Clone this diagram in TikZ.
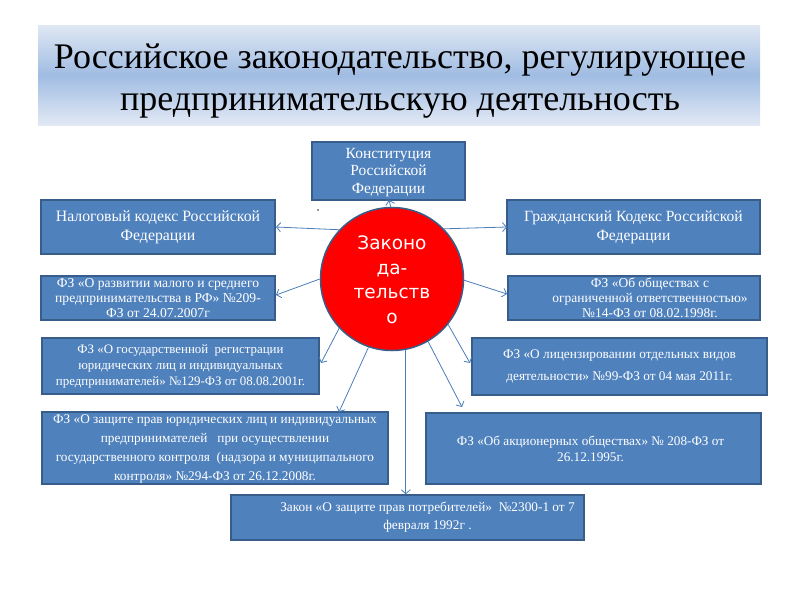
\documentclass[tikz,border=0pt]{standalone}
\usepackage{fontspec}
\setmainfont{Liberation Serif}
\newfontfamily\circfont{DejaVu Sans}
\usetikzlibrary{arrows.meta,calc}
\definecolor{boxfill}{RGB}{79,129,189}
\definecolor{boxedge}{RGB}{56,93,138}
\definecolor{arrowc}{RGB}{74,126,187}
\definecolor{bantop}{RGB}{224,232,244}
\definecolor{banmid}{RGB}{160,188,226}
\definecolor{banbot}{RGB}{226,233,245}
\tikzset{
  box/.style={draw=boxedge, fill=boxfill, line width=1.5pt, inner sep=0pt},
  txt/.style={text=white, align=center, inner sep=0pt},
  ttl/.style={anchor=base, inner sep=0pt, text=black, font=\fontsize{36}{43}\selectfont},
  arr/.style={draw=arrowc, line width=0.8pt, -{Straight Barb[length=4pt,width=9pt]}},
}
\begin{document}
\begin{tikzpicture}[x=1pt,y=-1pt]
\useasboundingbox (0,0) rectangle (800,600);
% title banner
\shade[top color=bantop, bottom color=banbot, middle color=banmid] (38,25) rectangle (760,125);
\node[ttl] (title1) at (400,68) {Российское законодательство, регулирующее};
\node[ttl] (title2) at (400,110) {предпринимательскую деятельность};
% boxes
\node[box, minimum width=153pt, minimum height=58pt] (konst) at (388.5,171) {};
\node[txt, font=\fontsize{15.5}{17.5}\selectfont] (konstt) at ($(konst)+(0,1.5)$) {Конституция\\Российской\\Федерации};
\node[box, minimum width=234pt, minimum height=54pt] (nal) at (158,227) {};
\node[txt, font=\fontsize{15.8}{19}\selectfont] (nalt) at (nal) {Налоговый кодекс Российской\\Федерации};
\node[box, minimum width=253pt, minimum height=54pt] (graz) at (633.5,227) {};
\node[txt, font=\fontsize{15.6}{19}\selectfont] (grazt) at (graz) {Гражданский Кодекс Российской\\Федерации};
\node[box, minimum width=234pt, minimum height=44pt] (razv) at (158,298) {};
\node[txt, font=\fontsize{13.6}{15}\selectfont] (razvt) at (razv) {ФЗ «О развитии малого и среднего\\предпринимательства в РФ» №209-\\ФЗ от 24.07.2007г};
\node[box, minimum width=252pt, minimum height=44pt] (obsh) at (634,298) {};
\node[txt, font=\fontsize{13.5}{15}\selectfont] (obsht) at ($(obsh)+(16,0)$) {ФЗ «Об обществах с\\ограниченной ответственностью»\\№14-ФЗ от 08.02.1998г.};
\node[box, minimum width=277pt, minimum height=56pt] (gos) at (180.5,366) {};
\node[txt, font=\fontsize{12.9}{16}\selectfont] (gost) at (gos) {ФЗ «О государственной \ регистрации\\юридических лиц и индивидуальных\\предпринимателей» №129-ФЗ от 08.08.2001г.};
\node[box, minimum width=346pt, minimum height=72pt] (zash) at (215,448) {};
\node[txt, font=\fontsize{13.3}{19}\selectfont] (zasht) at ($(zash)+(0,1.5)$) {ФЗ «О защите прав юридических лиц и индивидуальных\\предпринимателей \ \ при осуществлении\\государственного контроля \ (надзора и муниципального\\контроля» №294-ФЗ от 26.12.2008г.};
\node[box, minimum width=295pt, minimum height=57pt] (lic) at (619.5,366.5) {};
\node[txt, font=\fontsize{13.3}{22}\selectfont] (lict) at (lic) {ФЗ «О лицензировании отдельных видов\\деятельности» №99-ФЗ от 04 мая 2011г.};
\node[box, minimum width=335pt, minimum height=71pt] (akc) at (593.5,448.5) {};
\node[txt, font=\fontsize{13.2}{16}\selectfont] (akct) at ($(akc)+(-3,0)$) {ФЗ «Об акционерных обществах» № 208-ФЗ от\\26.12.1995г.};
\node[box, minimum width=353pt, minimum height=45pt] (zak) at (407.5,517.5) {};
\node[txt, font=\fontsize{13.3}{18}\selectfont] (zakt) at ($(zak)+(20,0)$) {Закон «О защите прав потребителей» \ №2300-1 от 7\\февраля 1992г .};
% circle
\node[circle, draw=boxedge, fill=red, line width=1.5pt, minimum size=143pt, inner sep=0pt] (c) at (392,279) {};
\node[txt, font=\circfont\fontsize{18.5}{24.5}\selectfont] (ct) at (392,280) {Законо\\да-\\тельств\\о};
% stray dot
\fill[black!80] (318,210) circle (0.9pt);
% tips
\coordinate (tkonst) at (389,200);
\coordinate (tnal) at (276,227);
\coordinate (trazv) at (276,295);
\coordinate (tgraz) at (507,227);
\coordinate (tobsh) at (507,294);
\coordinate (tgos) at (321,363);
\coordinate (tzash) at (339,412);
\coordinate (takc) at (462,407);
\coordinate (tlic) at (470,363);
% arrows
\draw[arr] (c.91) -- (tkonst);
\draw[arr] (c.137) -- (tnal);
\draw[arr] (c.180) -- (trazv);
\draw[arr] (c.44) -- (tgraz);
\draw[arr] (c.-1) -- (tobsh);
\draw[arr] (c.223) -- (tgos);
\draw[arr] (c.251) -- (tzash);
\draw[arr] (c.281) -- (c.281 |- zak.north);
\draw[arr] (c.300) -- (takc);
\draw[arr] (c.321) -- (tlic);
\end{tikzpicture}
\end{document}
